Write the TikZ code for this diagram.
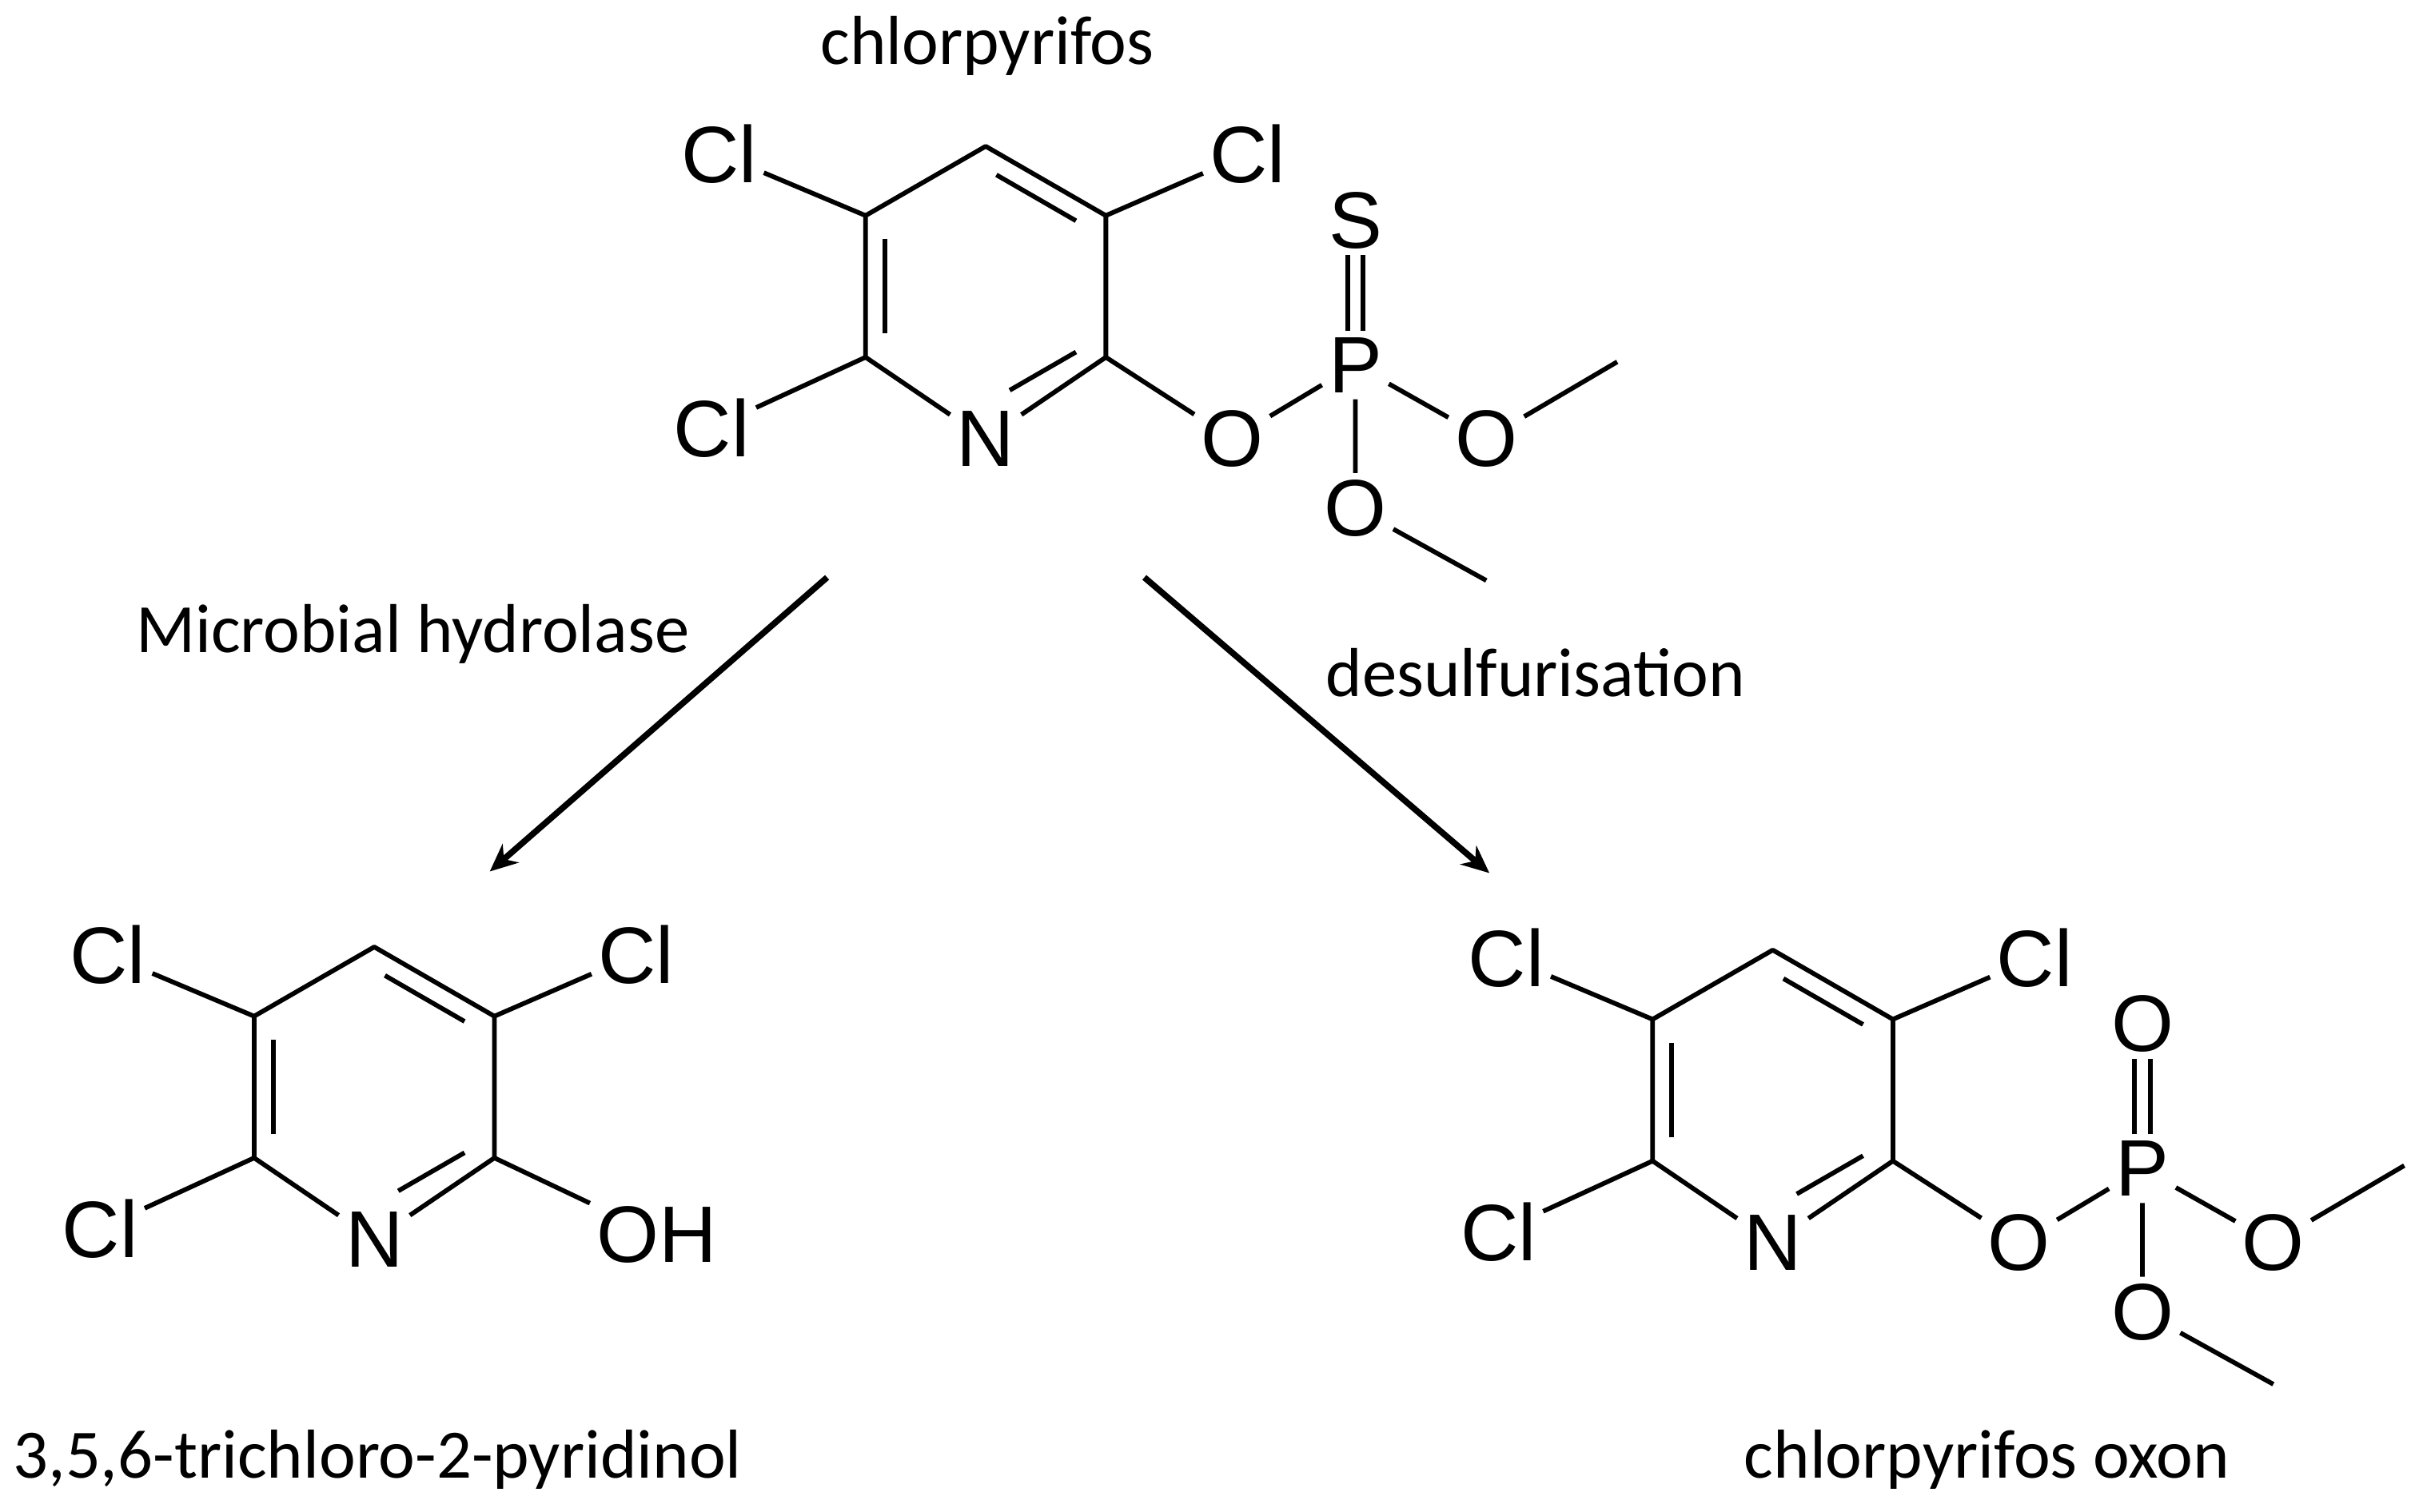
\documentclass[tikz,border=0pt]{standalone}
\usepackage{fontspec}
\setmainfont{Carlito}
\newfontfamily\atomfont{Liberation Sans}
\usetikzlibrary{calc,arrows.meta}
\tikzset{
  atom/.style={font=\atomfont\fontsize{26pt}{28pt}\selectfont, inner sep=2pt},
  bond/.style={line width=1.5pt},
  caption/.style={font=\fontsize{22.5pt}{26pt}\selectfont, inner sep=0pt},
  arr/.style={line width=2pt,-{Stealth[length=9pt,width=8pt]}}
}
\newcommand\pyr[3]{%
\begin{scope}[shift={(#2,#3)}, name prefix=#1-]
  \coordinate (t) at (640,95);
  \coordinate (ur) at (718,140);
  \coordinate (lr) at (718,232);
  \coordinate (vN) at (640,277);
  \coordinate (ll) at (562,232);
  \coordinate (ul) at (562,140);
  \coordinate (c) at (640,186);
  \node[atom] (N) at (640,285) {N};
  \node[atom] (Cl1) at (467,100) {Cl};
  \node[atom] (Cl2) at (810,100) {Cl};
  \node[atom] (Cl3) at (462,278) {Cl};
  \draw[bond,line join=round] (ll) -- (ul) -- (t) -- (ur) -- (lr) -- (N);
  \draw[bond] (N) -- (ll);
  \draw[bond] (ul) -- (Cl1) (ur) -- (Cl2) (ll) -- (Cl3);
  \draw[bond,shorten <=4pt,shorten >=4pt] ($(c)!0.84!(t)$) -- ($(c)!0.84!(ur)$);
  \draw[bond,shorten <=4pt,shorten >=4pt] ($(c)!0.84!(ll)$) -- ($(c)!0.84!(ul)$);
  \draw[bond,shorten <=9pt,shorten >=4pt] ($(c)!0.84!(vN)$) -- ($(c)!0.84!(lr)$);
\end{scope}}
\newcommand\phos[4]{%
\begin{scope}[shift={(#2,#3)}, name prefix=#1-]
  \node[atom] (O1) at (800,285) {O};
  \node[atom] (P) at (880,237) {P};
  \node[atom] (X) at (880,143) {#4};
  \node[atom] (O2) at (965,285) {O};
  \coordinate (Me1) at (1050,235);
  \node[atom] (O3) at (880,330) {O};
  \coordinate (Me2) at (965,377);
  \draw[bond] (lr) -- (O1) -- (P) -- (O2) -- (Me1);
  \draw[bond] (P) -- (O3) -- (Me2);
  \draw[bond] ([xshift=-2.5pt]P.north) -- ([xshift=-2.5pt]X.south);
  \draw[bond] ([xshift=2.5pt]P.north) -- ([xshift=2.5pt]X.south);
\end{scope}}
\begin{document}
\begin{tikzpicture}[x=0.5pt,y=-0.5pt]
\useasboundingbox (0,0) rectangle (1568,982);
\node[caption] (cap1) at (641,30) {chlorpyrifos};
\pyr{a}{0}{0}
\phos{a}{0}{0}{S}
\pyr{b}{-397}{520}
\node[atom, anchor=west] (b-OH) at (383,802) {OH};
\draw[bond] (b-lr) -- (b-OH);
\pyr{c}{511}{522}
\phos{c}{511}{522}{O}
\coordinate (s1) at (537,375);
\coordinate (e1) at (318,566);
\coordinate (s2) at (743,375);
\coordinate (e2) at (967,567);
\draw[arr] (s1) -- (e1);
\draw[arr] (s2) -- (e2);
\node[caption] (l1) at (268,412) {Microbial hydrolase};
\node[caption] (l2) at (997,437) {desulfurisation};
\node[caption] (cap2) at (245,948) {3,5,6-trichloro-2-pyridinol};
\node[caption] (cap3) at (1290,948) {chlorpyrifos oxon};
\end{tikzpicture}
\end{document}
